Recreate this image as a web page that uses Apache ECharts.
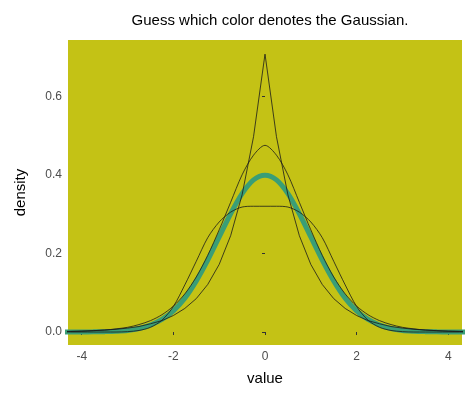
<!DOCTYPE html>
<html>
<head>
<meta charset="utf-8">
<script src="https://cdn.jsdelivr.net/npm/echarts@6/dist/echarts.min.js"></script>
<style>html,body{margin:0;background:#fff}#c{width:474px;height:406px}</style>
</head>
<body>
<div id="c"></div>
<script>
// x positions shared by all curves
const xs = [-4.5,-4.25,-4,-3.75,-3.5,-3.25,-3,-2.75,-2.5,-2.25,-2,-1.75,-1.5,-1.25,-1,-0.75,-0.5,-0.25,0,
  0.25,0.5,0.75,1,1.25,1.5,1.75,2,2.25,2.5,2.75,3,3.25,3.5,3.75,4,4.25,4.5]

const gaussian = [0,0,0.0001,0.0004,0.001,0.002,0.004,0.009,0.018,0.032,0.054,0.086,0.130,0.183,0.242,0.301,0.352,0.387,0.399,
  0.387,0.352,0.301,0.242,0.183,0.130,0.086,0.054,0.032,0.018,0.009,0.004,0.002,0.001,0.0004,0.0001,0,0]
const laplace = [0.0012,0.0017,0.0025,0.0035,0.005,0.007,0.010,0.014,0.021,0.029,0.042,0.060,0.085,0.121,0.172,0.245,0.349,0.497,0.707,
  0.497,0.349,0.245,0.172,0.121,0.085,0.060,0.042,0.029,0.021,0.014,0.010,0.007,0.005,0.0035,0.0025,0.0017,0.0012]
const logistic = [0.001,0.0015,0.002,0.0035,0.005,0.008,0.012,0.019,0.029,0.044,0.066,0.097,0.14,0.195,0.26,0.33,0.40,0.45,0.475,
  0.45,0.40,0.33,0.26,0.195,0.14,0.097,0.066,0.044,0.029,0.019,0.012,0.008,0.005,0.0035,0.002,0.0015,0.001]
const flat = [0,0,0,0,0,0,0.001,0.004,0.012,0.03,0.065,0.12,0.18,0.24,0.28,0.305,0.318,0.32,0.32,
  0.32,0.318,0.305,0.28,0.24,0.18,0.12,0.065,0.03,0.012,0.004,0.001,0,0,0,0,0,0]

const xTicks = [-4, -2, 0, 2, 4]
const yTicks = [0, 0.2, 0.4, 0.6]

const pair = ys => xs.map((x, i) => [x, ys[i]])
const thin = (name, ys, smooth) => ({
  name, type: 'line', data: pair(ys), smooth, showSymbol: false,
  lineStyle: {color: '#1a1a1a', width: 0.8}, z: 3,
})
const lab = {color: '#4d4d4d', fontSize: 12, fontFamily: 'Liberation Sans'}

const chart = echarts.init(document.getElementById('c'))
chart.setOption({
  animation: false,
  title: {text: 'Guess which color denotes the Gaussian.', left: 265, top: 8, textAlign: 'center',
    textStyle: {fontSize: 15, fontWeight: 'normal', color: '#000', fontFamily: 'Liberation Sans'}},
  grid: {left: 68, right: 12, top: 40, bottom: 61, show: true, backgroundColor: '#C4C215', borderWidth: 0},
  xAxis: {
    type: 'value', min: -4.3, max: 4.3, name: 'value', nameLocation: 'middle', nameGap: 26,
    nameTextStyle: {fontSize: 15, color: '#000', fontFamily: 'Liberation Sans'},
    axisLine: {show: false}, splitLine: {show: false},
    axisTick: {show: true, length: 3, lineStyle: {color: '#333'}, customValues: xTicks},
    axisLabel: Object.assign({customValues: xTicks, margin: 6}, lab),
  },
  yAxis: {
    type: 'value', min: -0.033, max: 0.743, name: 'density', nameLocation: 'middle', nameGap: 40,
    nameTextStyle: {fontSize: 15, color: '#000', fontFamily: 'Liberation Sans'},
    axisLine: {show: false}, splitLine: {show: false},
    axisTick: {show: true, length: 3, lineStyle: {color: '#333'}, customValues: yTicks},
    axisLabel: Object.assign({customValues: yTicks, margin: 6, formatter: v => v.toFixed(1)}, lab),
  },
  series: [
    {name: 'gaussian', type: 'line', data: pair(gaussian), smooth: 0.3, showSymbol: false,
      lineStyle: {color: '#3A9E76', width: 5}, z: 2},
    thin('laplace', laplace, false),
    thin('logistic', logistic, 0.3),
    thin('flat', flat, 0.3),
  ],
})
</script>
</body>
</html>
